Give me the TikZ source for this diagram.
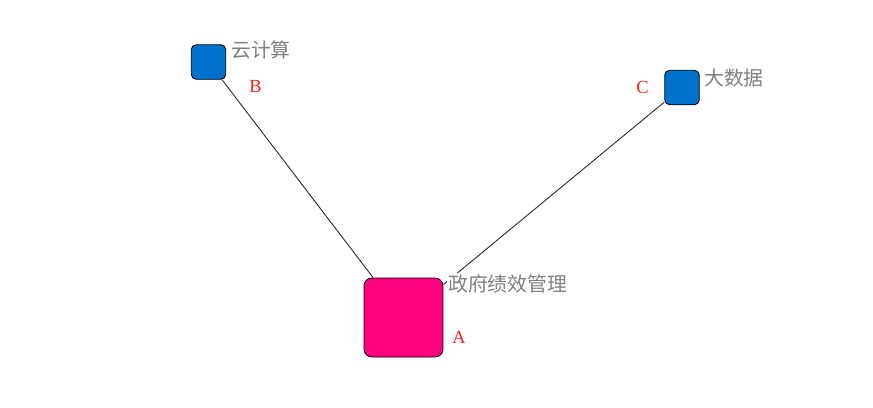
\documentclass[tikz,border=0pt]{standalone}
\usepackage{fontspec}
\newfontfamily\cjk{Noto Sans CJK SC}
\newfontfamily\serifletter{Liberation Serif}
\usepackage{tikz}
\usetikzlibrary{positioning}

\definecolor{boxblue}{RGB}{0,114,206}
\definecolor{boxpink}{RGB}{255,0,128}
\definecolor{txtgray}{RGB}{128,128,128}
\definecolor{txtred}{RGB}{255,30,30}

\begin{document}
\begin{tikzpicture}[x=0.02cm, y=-0.02cm,
        topic/.style={rectangle, draw=black, line width=0.5pt, inner sep=0pt},
        smallbox/.style={topic, fill=boxblue, minimum size=0.69cm, rounded corners=2.8pt},
        bigbox/.style={topic, fill=boxpink, minimum size=1.58cm, rounded corners=4.5pt},
        link/.style={draw=black!85, line width=0.5pt},
        topictext/.style={font=\cjk\fontsize{11.3}{13}\selectfont, text=txtgray, fill=white, inner sep=0.5pt, anchor=base west},
        letter/.style={font=\serifletter\fontsize{10.5}{12}\selectfont, text=txtred, inner sep=0pt, anchor=base west}]

    \useasboundingbox (0,0) rectangle (873,407);

    \node (A) [bigbox] at (403.5,317.5) {};
    \node (B) [smallbox] at (208.5,62) {};
    \node (C) [smallbox] at (682,87.5) {};

    \draw [link] (B) -- (A);
    \draw [link] (C) -- (A);

    \node (Atext) [topictext] at (447,291) {政府绩效管理};
    \node (Btext) [topictext] at (230,57) {云计算};
    \node (Ctext) [topictext] at (703,85) {大数据};

    \node (Aletter) [letter] at (452,343) {A};
    \node (Bletter) [letter] at (249,92) {B};
    \node (Cletter) [letter] at (636,93) {C};
\end{tikzpicture}
\end{document}
